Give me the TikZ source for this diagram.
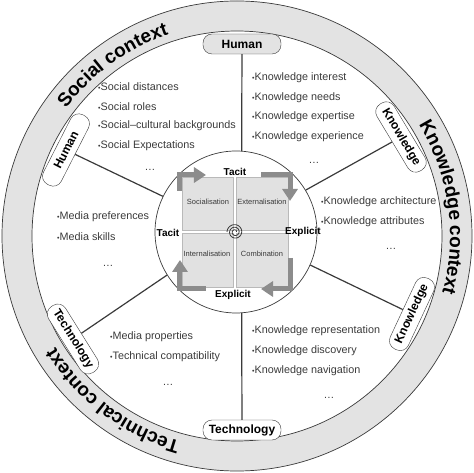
\documentclass[tikz,border=0pt]{standalone}
\usepackage{fontspec}
\setmainfont{Liberation Sans}
\usetikzlibrary{arrows.meta,decorations.text}

\definecolor{ringgrey}{HTML}{E3E3E3}
\definecolor{cellgrey}{HTML}{E1E1E1}
\definecolor{inkgrey}{HTML}{3A3A3A}
\definecolor{arrowgrey}{HTML}{8C8C8C}

\newcommand{\ringfont}{\fontsize{19}{19}\selectfont\bfseries}
\newcommand{\bul}{{\fontsize{7}{7}\selectfont•}}

\tikzset{
  tab/.style={draw=inkgrey, fill=white, rounded corners=9pt, minimum width=78pt,
    minimum height=20pt, inner sep=1pt, font=\fontsize{12}{12}\selectfont\bfseries},
  item/.style={anchor=west, inner sep=0pt, text=inkgrey, font=\fontsize{10.8}{12}\selectfont},
  cell/.style={draw=gray!55, fill=cellgrey},
  cellname/.style={inner sep=0pt, text=inkgrey, font=\fontsize{7.5}{8}\selectfont},
  axis/.style={inner sep=0pt, font=\fontsize{10}{10}\selectfont\bfseries},
  turn/.style={arrowgrey, line width=5pt, -{Triangle[width=15pt,length=12pt]}},
  spoke/.style={inkgrey, line width=1.2pt},
  ringtext/.style={decorate, decoration={text along path, text align=center, text={#1}}}
}

\begin{document}
\begin{tikzpicture}[x=1pt,y=1pt]
\useasboundingbox (-237,-237) rectangle (237,236);

% outer ring
\fill[ringgrey, even odd rule] (0,0) circle (235) circle (205);
\draw[inkgrey, line width=0.7pt] (0,0) circle (235);
\draw[inkgrey, line width=0.7pt] (0,0) circle (205);
\path[ringtext={|\ringfont|Social context}] (186:213) arc[start angle=186, end angle=66, radius=213];
\path[ringtext={|\ringfont|Knowledge context}] (68:213) arc[start angle=68, end angle=-52, radius=213];
\path[ringtext={|\ringfont|Technical context}] (-67:213) arc[start angle=-67, end angle=-187, radius=213];

% core circle
\node[circle, draw=inkgrey, line width=0.7pt, fill=white, minimum size=162pt, inner sep=0pt] (core) at (-1,4) {};

% tabs
\node[tab, fill=ringgrey] (hum1) at (5,192) {Human};
\node[tab, rotate=63] (hum2) at (-171,86) {Human};
\node[tab, rotate=-59] (kno1) at (164,99) {Knowledge};
\node[tab, rotate=65] (kno2) at (175,-78) {Knowledge};
\node[tab] (tec1) at (5,-194) {Technology};
\node[tab, rotate=-58] (tec2) at (-164,-103) {Technology};

% spokes
\draw[spoke] (core.86) -- (hum1);
\draw[spoke] (core.154) -- (hum2);
\draw[spoke] (core.31) -- (kno1);
\draw[spoke] (core.336) -- (kno2);
\draw[spoke] (core.274) -- (tec1);
\draw[spoke] (core.212) -- (tec2);

% item lists
\foreach \t [count=\i] in {Social distances, Social roles, Social–cultural backgrounds, Social Expectations}
  \node[item] (soc\i) at (-139,{149-19.6*(\i-1)}) {\bul\t};
\node[item, anchor=center] (socdots) at (-87,66) {\dots};
\foreach \t [count=\i] in {Knowledge interest, Knowledge needs, Knowledge expertise, Knowledge experience}
  \node[item] (kin\i) at (15,{158-19.6*(\i-1)}) {\bul\t};
\node[item, anchor=center] (kindots) at (77,73) {\dots};
\foreach \t [count=\i] in {Knowledge architecture, Knowledge attributes}
  \node[item] (karch\i) at (84,{34-19.4*(\i-1)}) {\bul\t};
\node[item, anchor=center] (karchdots) at (154,-13) {\dots};
\foreach \t [count=\i] in {Media preferences, Media skills}
  \node[item] (med\i) at (-180,{19-19.8*(\i-1)}) {\bul\t};
\node[item, anchor=center] (meddots) at (-129,-30) {\dots};
\foreach \t [count=\i] in {Media properties, Technical compatibility}
  \node[item] (mprop\i) at (-127,{-101-19.8*(\i-1)}) {\bul\t};
\node[item, anchor=center] (mpropdots) at (-69,-149) {\dots};
\foreach \t [count=\i] in {Knowledge representation, Knowledge discovery, Knowledge navigation}
  \node[item] (krep\i) at (15,{-95-19.8*(\i-1)}) {\bul\t};
\node[item, anchor=center] (krepdots) at (92,-162) {\dots};

% SECI cells
\foreach \xa/\xb in {-55/-3.5, -0.5/51}
  \foreach \ya/\yb in {59/5.5, 2.5/-51}
    \draw[cell] (\xa,\ya) rectangle (\xb,\yb);
\node[cellname] (soci) at (-29,34) {Socialisation};
\node[cellname] (exte) at (25,34) {Externalisation};
\node[cellname] (inte) at (-30,-18) {Internalisation};
\node[cellname] (comb) at (25,-18) {Combination};

% turning arrows
\draw[turn] (-57,45) -- (-57,61) -- (-31,61);
\draw[turn] (24,61) -- (53,61) -- (53,35);
\draw[turn] (53,-22) -- (53,-53) -- (24,-53);
\draw[turn] (-31,-53) -- (-57,-53) -- (-57,-24);

\node[axis] (tacT) at (-2,64) {Tacit};
\node[axis] (tacL) at (-69,3) {Tacit};
\node[axis] (expR) at (66,4) {Explicit};
\node[axis] (expB) at (-4,-59) {Explicit};

% spiral
\draw[inkgrey, line width=0.8pt] plot[domain=0:900, samples=90, smooth]
  ({-2+(1.5+\x/900*6.5)*cos(\x)}, {4+(1.5+\x/900*6.5)*sin(\x)});
\end{tikzpicture}
\end{document}
